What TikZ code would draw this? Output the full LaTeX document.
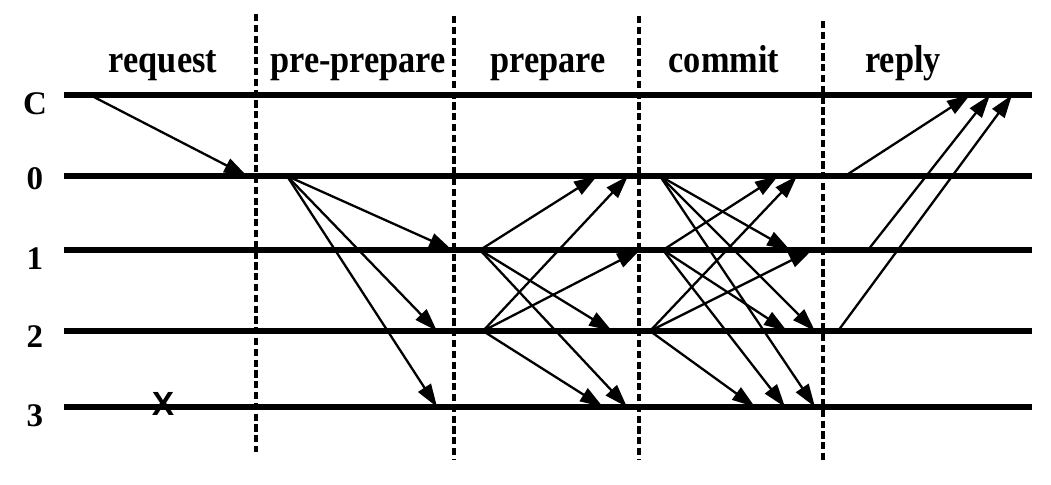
\documentclass[tikz,border=0pt]{standalone}
\usepackage{fontspec}
\setmainfont{Liberation Serif}
\newfontfamily\xsansfont{Liberation Sans}
\usetikzlibrary{arrows.meta}
\newcommand\phasetext[1]{\scalebox{0.88}[1]{#1}}
\begin{document}
\begin{tikzpicture}[x=0.5pt,y=-0.5pt,
  timeline/.style={line width=2.9pt},
  phaseline/.style={line width=1.7pt,dash pattern=on 3.6pt off 1.8pt},
  msg/.style={line width=1.15pt,-{Triangle[length=11.5pt,width=7.5pt]}},
  phase/.style={font=\bfseries\fontsize{19.5}{22}\selectfont,anchor=base,inner sep=0pt},
  rowlabel/.style={font=\bfseries\fontsize{16.5}{19}\selectfont,anchor=base,inner sep=0pt},
  fail/.style={font=\xsansfont\bfseries\fontsize{16.75}{19}\selectfont,inner sep=0pt}]
\useasboundingbox (0,0) rectangle (1051,485);

% timelines
\foreach \n/\y in {C/95,R0/176,R1/250,R2/331,R3/407}{
  \coordinate (\n s) at (64,\y);
  \coordinate (\n e) at (1032,\y);
}
\foreach \n in {C,R0,R1,R2,R3}{\draw[timeline] (\n s) -- (\n e);}

% phase separators
\coordinate (d1t) at (256,14);  \coordinate (d1b) at (256,452);
\coordinate (d2t) at (454,16);  \coordinate (d2b) at (454,460);
\coordinate (d3t) at (639,16);  \coordinate (d3b) at (639,460);
\coordinate (d4t) at (823,21);  \coordinate (d4b) at (823,460);
\foreach \d in {d1,d2,d3,d4}{\draw[phaseline] (\d t) -- (\d b);}

% phase titles
\node[phase] (tReq) at (163,73) {\phasetext{request}};
\node[phase] (tPre) at (358,73) {\phasetext{pre-prepare}};
\node[phase] (tPrep) at (548,73) {\phasetext{prepare}};
\node[phase] (tCom) at (724,73) {\phasetext{commit}};
\node[phase] (tRep) at (903,73) {\phasetext{reply}};

% row labels
\node[rowlabel] (lC) at (35,115) {C};
\node[rowlabel] (l0) at (35,190) {0};
\node[rowlabel] (l1) at (35,270) {1};
\node[rowlabel] (l2) at (35,348) {2};
\node[rowlabel] (l3) at (35,427) {3};

% failed replica
\node[fail] (fx) at (163,404) {X};

% request
\coordinate (rqS) at (90,95);  \coordinate (rqE) at (247,176);
\draw[msg] (rqS) -- (rqE);

% pre-prepare
\coordinate (ppS) at (287,176);
\coordinate (pp1) at (452,250);
\coordinate (pp2) at (437,331);
\coordinate (pp3) at (437,407);
\foreach \t in {pp1,pp2,pp3}{\draw[msg] (ppS) -- (\t);}

% prepare
\coordinate (p1S) at (480,250);
\coordinate (p1a) at (597,176);
\coordinate (p1b) at (612,331);
\coordinate (p1c) at (627,407);
\coordinate (p2S) at (483,331);
\coordinate (p2a) at (628,176);
\coordinate (p2b) at (640,250);
\coordinate (p2c) at (603,407);
\foreach \t in {p1a,p1b,p1c}{\draw[msg] (p1S) -- (\t);}
\foreach \t in {p2a,p2b,p2c}{\draw[msg] (p2S) -- (\t);}

% commit
\coordinate (c0S) at (660,176);
\coordinate (c0a) at (790,250);
\coordinate (c0b) at (815,331);
\coordinate (c0c) at (815,407);
\coordinate (c1S) at (663,250);
\coordinate (c1a) at (778,176);
\coordinate (c1b) at (787,331);
\coordinate (c1c) at (785,407);
\coordinate (c2S) at (650,331);
\coordinate (c2a) at (797,176);
\coordinate (c2b) at (812,250);
\coordinate (c2c) at (755,407);
\foreach \t in {c0a,c0b,c0c}{\draw[msg] (c0S) -- (\t);}
\foreach \t in {c1a,c1b,c1c}{\draw[msg] (c1S) -- (\t);}
\foreach \t in {c2a,c2b,c2c}{\draw[msg] (c2S) -- (\t);}

% reply
\coordinate (y0S) at (845,176);  \coordinate (y0E) at (970,95);
\coordinate (y1S) at (868,250);  \coordinate (y1E) at (990,95);
\coordinate (y2S) at (838,331);  \coordinate (y2E) at (1012,95);
\draw[msg] (y0S) -- (y0E);
\draw[msg] (y1S) -- (y1E);
\draw[msg] (y2S) -- (y2E);
\end{tikzpicture}
\end{document}
